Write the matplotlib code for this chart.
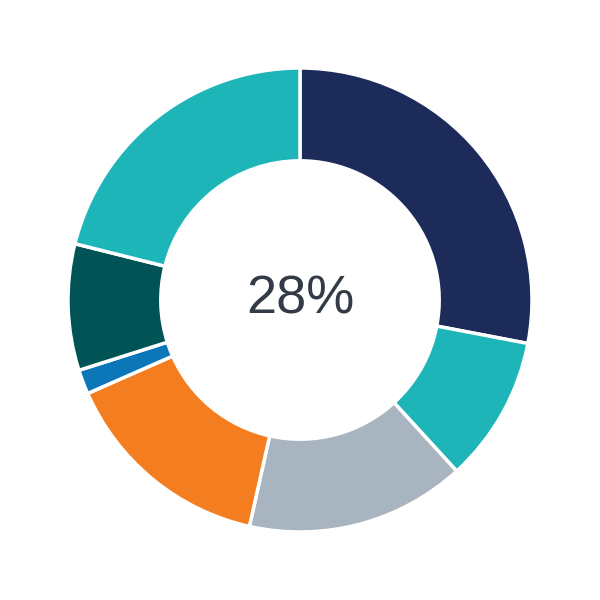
import matplotlib
matplotlib.use("Agg")
import matplotlib.pyplot as plt

labels = ["A", "B", "C", "D", "E", "F", "G"]
values = [28, 10.2, 15.3, 14.9, 1.7, 8.8, 21.1]
colors = ["#1c2b5a", "#1db5b8", "#a9b4c1", "#f47d20", "#0b76b8", "#015456", "#1db5b8"]
center_text = "28%"

fig = plt.figure(figsize=(6, 6), dpi=100)
ax = fig.add_axes([0, 0, 1, 1])
ax.pie(values, colors=colors, startangle=90, counterclock=False,
       radius=1.0,
       wedgeprops=dict(width=0.40, edgecolor="white", linewidth=2.5))
ax.set_xlim(-300/232, 300/232)
ax.set_ylim(-300/232, 300/232)
ax.set_aspect("equal")
ax.axis("off")
ax.text(0, 0, center_text, ha="center", va="center", fontsize=39,
        color="#333b47", family="Liberation Sans")
fig.savefig("out.png", dpi=100)
